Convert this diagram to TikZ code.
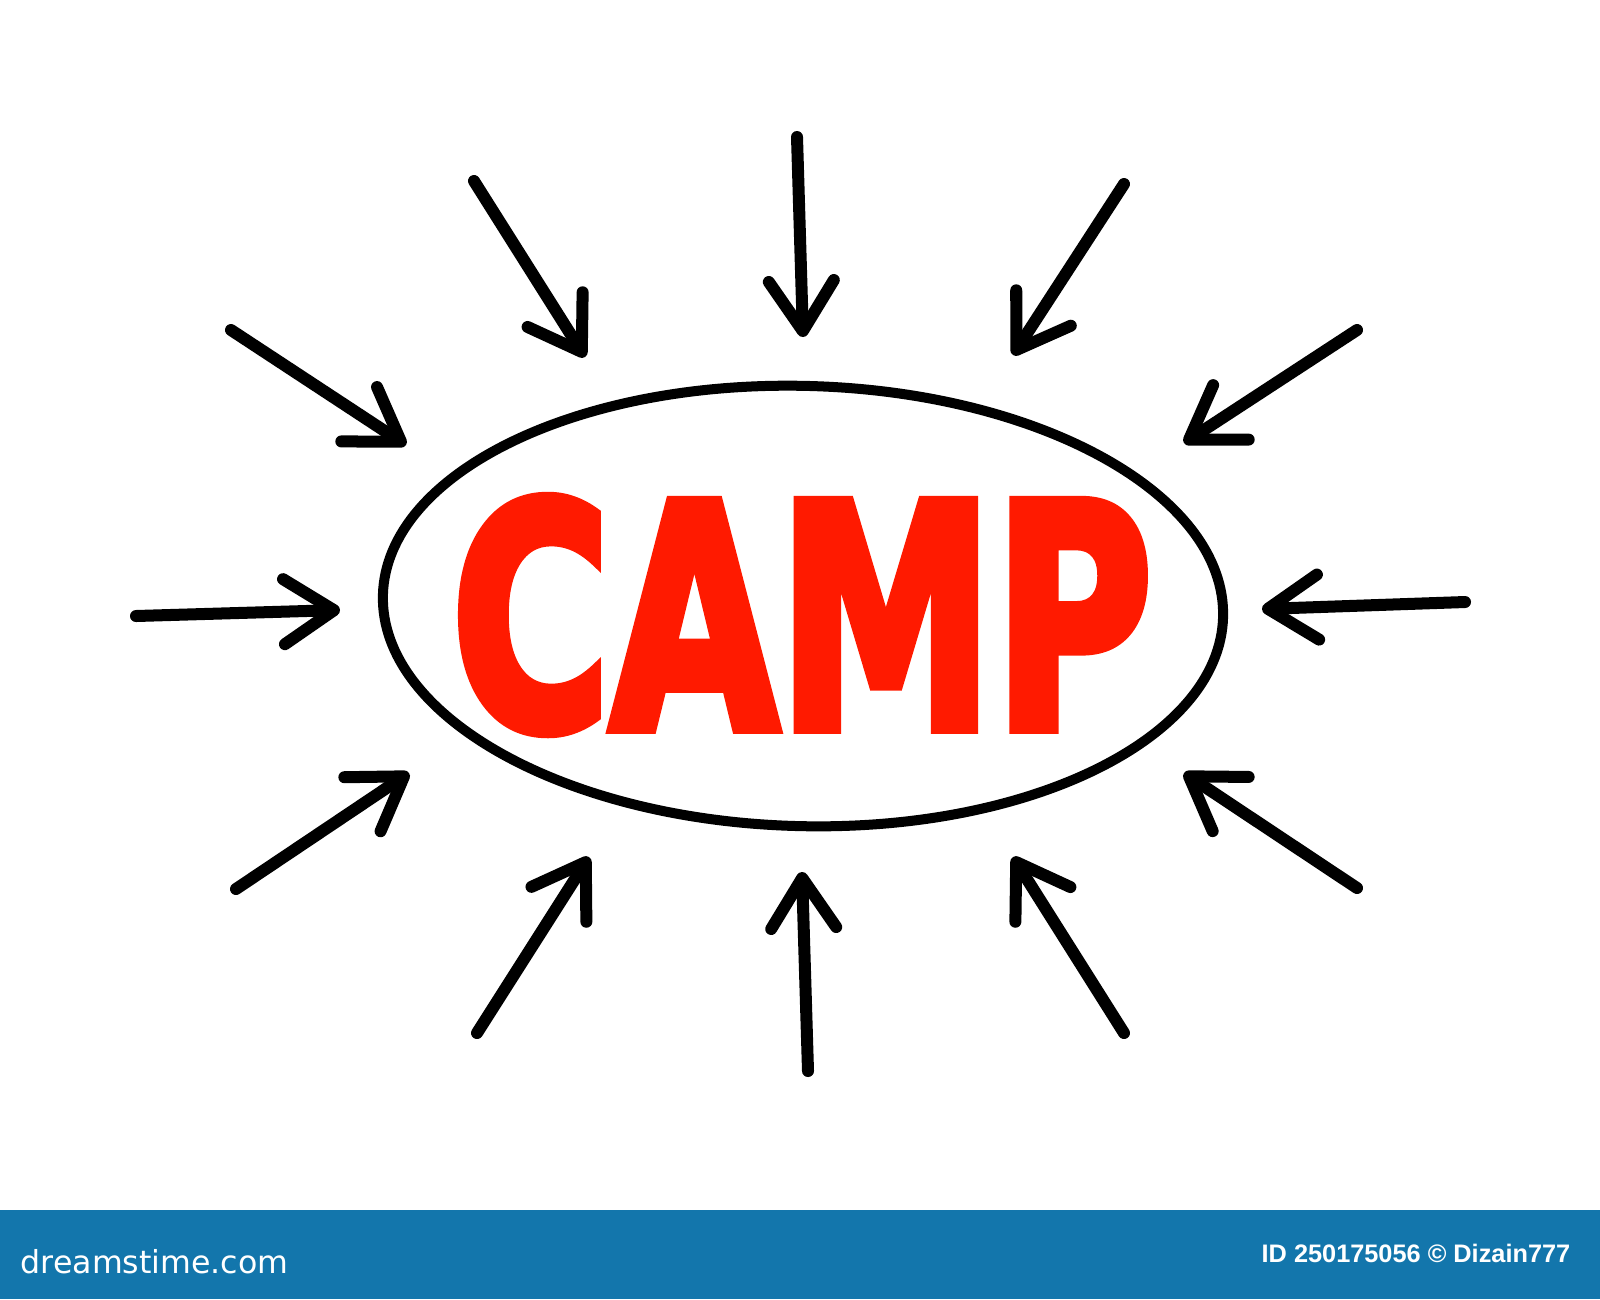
\documentclass[tikz,border=0pt]{standalone}
\usepackage{fontspec}
\usetikzlibrary{arrows.meta}
\usetikzlibrary{shapes.geometric}
\newfontfamily\campfont{DejaVu Sans Bold}[FakeBold=4]
\newfontfamily\sitefont{DejaVu Sans}
\newfontfamily\creditfont{Liberation Sans Bold}
\definecolor{campred}{RGB}{255,26,0}
\definecolor{barblue}{RGB}{19,118,172}

\begin{document}
\begin{tikzpicture}[x=0.01cm, y=-0.01cm,
  inarrow/.style={line width=0.12cm, line cap=round,
    -{Straight Barb[length=5mm, width=6.5mm, round]}}]
\useasboundingbox (0,0) rectangle (1600,1299);

% the ellipse
\node[ellipse, draw, line width=0.1cm, minimum width=8.4cm, minimum height=4.4cm, rotate=-1.5] (camp) at (803,606) {};
% the word
\node[text=campred, font=\campfont\fontsize{88}{88}\selectfont] (word) at (802,615) {\scalebox{0.7}[1]{CAMP}};

% arrow ends
\coordinate (s1) at (797,137);   \coordinate (t1) at (803,337);
\coordinate (s2) at (474,181);   \coordinate (t2) at (585,357);
\coordinate (s3) at (1124,184);  \coordinate (t3) at (1013,355);
\coordinate (s4) at (231,330);   \coordinate (t4) at (406,445);
\coordinate (s5) at (1357,330);  \coordinate (t5) at (1184,443);
\coordinate (s6) at (136,616);   \coordinate (t6) at (340,610);
\coordinate (s7) at (1465,602);  \coordinate (t7) at (1262,609);
\coordinate (s8) at (236,889);   \coordinate (t8) at (409,773);
\coordinate (s9) at (1357,888);  \coordinate (t9) at (1184,773);
\coordinate (s10) at (477,1033); \coordinate (t10) at (589,857);
\coordinate (s11) at (808,1071); \coordinate (t11) at (802,872);
\coordinate (s12) at (1124,1033);\coordinate (t12) at (1013,857);

% arrows pointing in
\foreach \i in {1,...,12}
  \draw[inarrow] (s\i) -- (t\i);

% bottom bar
\fill[barblue] (0,1210) rectangle (1600,1299);
\node[text=white, anchor=west, inner sep=0pt, font=\sitefont\fontsize{9}{9}\selectfont] (site) at (20,1262) {dreamstime.com};
\node[text=white, anchor=east, inner sep=0pt, font=\creditfont\fontsize{7.2}{7.2}\selectfont] (credit) at (1571,1253) {ID 250175056 © Dizain777};

\end{tikzpicture}
\end{document}
